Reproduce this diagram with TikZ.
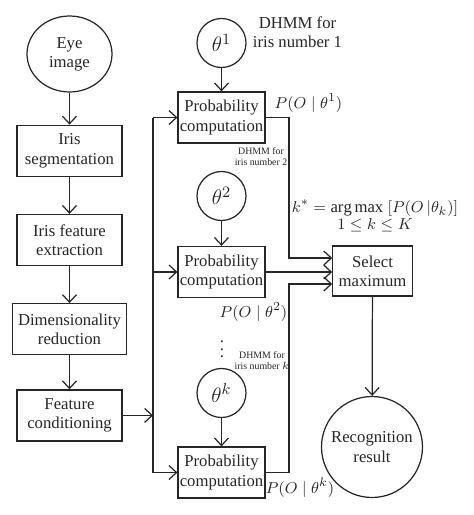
\documentclass[tikz,border=0pt]{standalone}
\usepackage{fontspec}
\setmainfont{Liberation Serif}
\usetikzlibrary{arrows.meta, positioning, shapes.geometric, calc}

\begin{document}
\begin{tikzpicture}[node distance=0.72cm, >={Straight Barb[length=1.5mm, width=2.8mm]}, font=\fontsize{9.5}{11}\selectfont, line width=0.7pt, color=black!85]
  \tikzstyle{procbox}=[draw, align=center, minimum width=2.1cm, minimum height=1.02cm]
  \tikzstyle{probbox}=[draw, align=center, minimum width=1.74cm, minimum height=1.02cm, inner sep=1pt]
  \tikzstyle{modelnode}=[draw, circle, minimum size=0.98cm, inner sep=0pt, font=\fontsize{13}{14}\selectfont]
  \tikzstyle{dhmmlabel}=[align=center, inner sep=0pt, font=\fontsize{5.6}{6.2}\selectfont]

  \useasboundingbox (0,0) rectangle (9.48,-10.3);

  % left column
  \node[draw, ellipse, minimum width=1.7cm, minimum height=1.52cm, align=center] (eye) at (1.39,-1.08) {Eye\\image};
  \node[procbox, below=0.64cm of eye] (seg) {Iris\\segmentation};
  \node[procbox, below=0.74cm of seg] (feat) {Iris feature\\extraction};
  \node[procbox, below=0.74cm of feat] (dim) {Dimensionality\\reduction};
  \node[procbox, below=0.68cm of dim] (cond) {Feature\\conditioning};

  \draw[->] (eye) -- (seg);
  \draw[->] (seg) -- (feat);
  \draw[->] (feat) -- (dim);
  \draw[->] (dim) -- (cond);

  % models and probability boxes
  \node[modelnode] (th1) at (4.43,-0.86) {$\theta^1$};
  \node[modelnode] (th2) at (4.43,-3.92) {$\theta^2$};
  \node[modelnode] (thk) at (4.43,-7.86) {$\theta^k$};
  \node[probbox] (prob1) at (4.43,-2.35) {Probability\\computation};
  \node[probbox] (prob2) at (4.43,-5.44) {Probability\\computation};
  \node[probbox] (probk) at (4.43,-9.45) {Probability\\computation};

  \node[align=center, inner sep=0pt] (dhmm1) at (5.95,-0.64) {DHMM for\\iris number 1};
  \node[dhmmlabel] (dhmm2) at (5.22,-3.14) {DHMM for\\iris number 2};
  \node[dhmmlabel] (dhmmk) at (5.24,-7.22) {DHMM for\\iris number $k$};

  \draw[->] (th1) -- (prob1);
  \draw[->] (th2) -- (prob2);
  \draw[->] (thk) -- (probk);

  % bus from feature conditioning
  \coordinate (bustop) at (3.06,-2.35);
  \coordinate (busbot) at (3.06,-9.45);
  \draw (bustop) -- (busbot);
  \draw[->] (cond) -- (cond -| bustop);
  \draw[->] (bustop) -- (prob1);
  \draw[->] (bustop |- prob2) -- (prob2);
  \draw[->] (busbot) -- (probk);

  % selection
  \node[draw, align=center, minimum width=1.58cm, minimum height=1.0cm] (sel) at (7.45,-5.42) {Select\\maximum};
  \node[draw, circle, minimum size=2.02cm, align=center, inner sep=0pt] (recog) at (7.44,-8.94) {Recognition\\result};
  \coordinate (mx) at (5.78,0);

  \draw[->] (prob1) -- (prob1 -| mx) |- ([yshift=0.26cm]sel.west);
  \draw[->] (prob2.east) -- (prob2.east -| sel.west);
  \draw[->] (probk) -- (probk -| mx) |- ([yshift=-0.26cm]sel.west);
  \draw[->] (sel) -- (recog);

  \node (p1) at (6.17,-2.06) {$P(O\mid\theta^1)$};
  \node (p2) at (5.07,-6.24) {$P(O\mid\theta^2)$};
  \node (pk) at (6.0,-9.76) {$P(O\mid\theta^k)$};
  \node[inner sep=0pt] (dots) at (4.44,-6.88) {$\vdots$};
  \node[align=center, inner sep=0pt] (argmax) at (7.5,-4.32) {$k^* = \arg\max\ [P(O\,|\theta_k)]$\\[-1pt]$1\le k\le K$};
\end{tikzpicture}
\end{document}
